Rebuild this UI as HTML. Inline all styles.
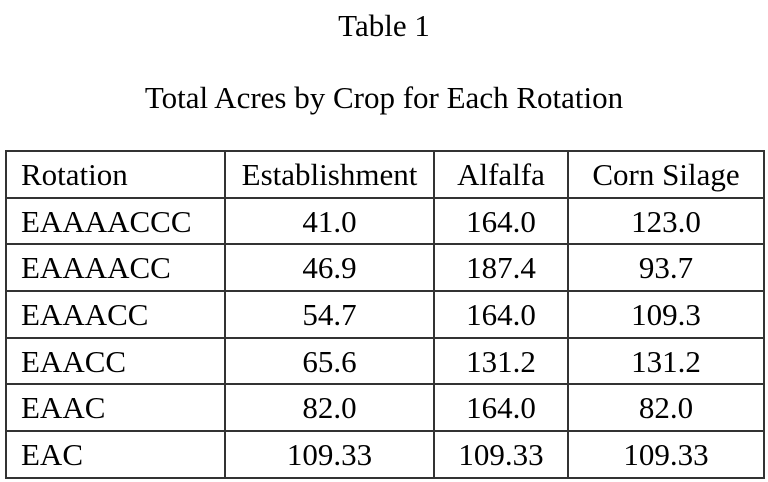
<!DOCTYPE html>
<html><head><style>
body{margin:0;width:768px;height:482px;background:#fff;font-family:"Liberation Serif",serif;color:#000;position:relative;overflow:hidden}
.t{position:absolute;left:0;width:768px;text-align:center;font-size:31px;line-height:31px}
table{position:absolute;left:5px;top:150px;border-collapse:collapse;font-size:31px}
td{border:2px solid #333;height:44.7px;padding:0;text-align:center;line-height:31px}
td:first-child{text-align:left;padding-left:14px}
</style></head><body>
<div class="t" style="top:10px">Table 1</div>
<div class="t" style="top:82px">Total Acres by Crop for Each Rotation</div>
<table>
<colgroup><col style="width:219px"><col style="width:209px"><col style="width:134px"><col style="width:196px"></colgroup>
<tr><td>Rotation</td><td>Establishment</td><td>Alfalfa</td><td>Corn Silage</td></tr>
<tr><td>EAAAACCC</td><td>41.0</td><td>164.0</td><td>123.0</td></tr>
<tr><td>EAAAACC</td><td>46.9</td><td>187.4</td><td>93.7</td></tr>
<tr><td>EAAACC</td><td>54.7</td><td>164.0</td><td>109.3</td></tr>
<tr><td>EAACC</td><td>65.6</td><td>131.2</td><td>131.2</td></tr>
<tr><td>EAAC</td><td>82.0</td><td>164.0</td><td>82.0</td></tr>
<tr><td>EAC</td><td>109.33</td><td>109.33</td><td>109.33</td></tr>
</table>
</body></html>
